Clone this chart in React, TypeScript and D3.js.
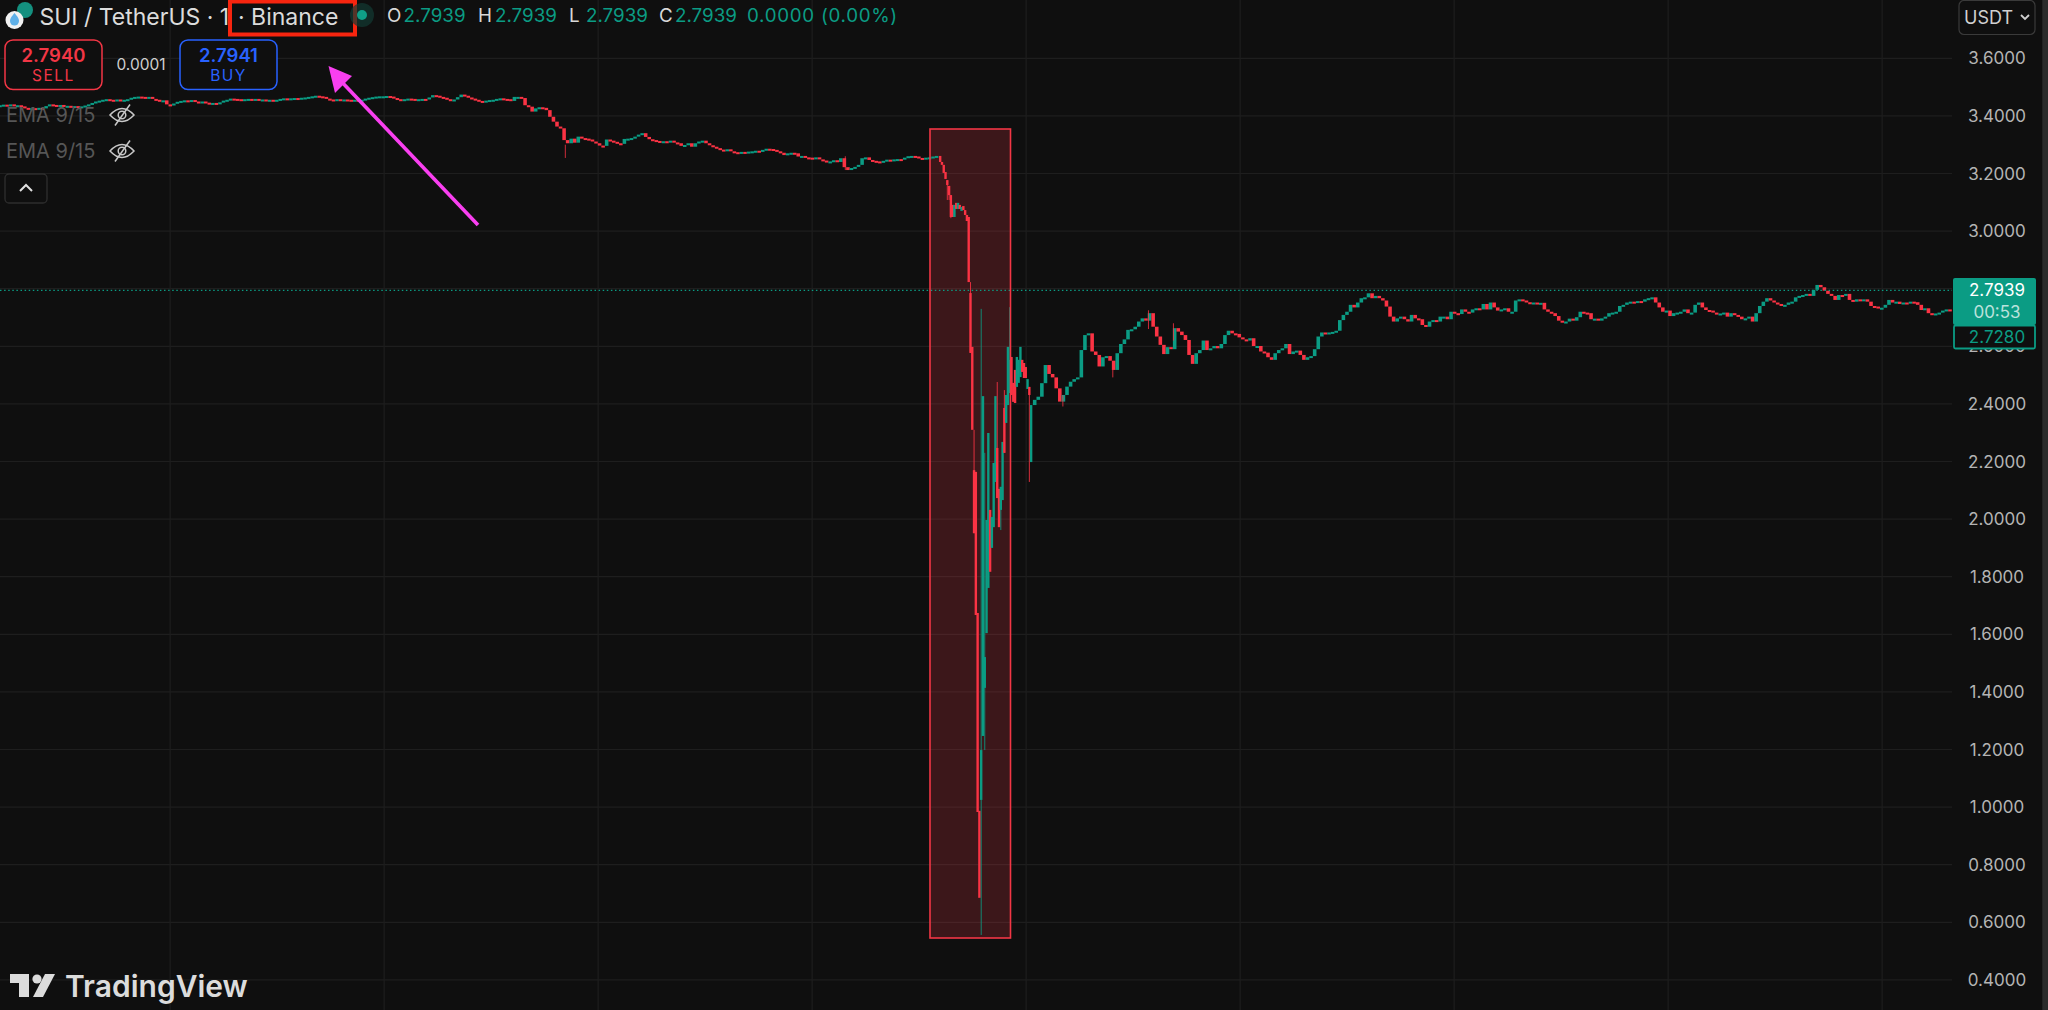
import React from "react";
import * as d3 from "d3";

const W = 2048, H = 1010;
const priceTicks = [3.6, 3.4, 3.2, 3.0, 2.6, 2.4, 2.2, 2.0, 1.8, 1.6, 1.4, 1.2, 1.0, 0.8, 0.6, 0.4];
const gridPrices = [3.6, 3.4, 3.2, 3.0, 2.8, 2.6, 2.4, 2.2, 2.0, 1.8, 1.6, 1.4, 1.2, 1.0, 0.8, 0.6, 0.4];
const gridBars = [95.4, 215.4, 335.4, 455.4, 575.4, 695.4, 815.4, 935.4, 1055.4];

// Closes before the crash, sampled every other bar
const preCloses = [
  3.437,3.439,3.436,3.44,3.435,3.437,3.433,3.428,3.425,3.427,3.424,3.428,3.426,3.434,3.44,3.438,3.436,3.438,3.433,3.435,
  3.432,3.434,3.431,3.433,3.436,3.44,3.445,3.45,3.453,3.456,3.458,3.456,3.455,3.457,3.455,3.456,3.458,3.463,3.466,3.467,
  3.466,3.464,3.466,3.459,3.456,3.452,3.454,3.44,3.437,3.443,3.449,3.452,3.454,3.453,3.455,3.45,3.448,3.45,3.446,3.444,
  3.445,3.444,3.447,3.453,3.456,3.46,3.459,3.458,3.457,3.458,3.459,3.458,3.459,3.456,3.457,3.455,3.456,3.454,3.456,3.459,
  3.461,3.46,3.461,3.462,3.461,3.463,3.464,3.466,3.468,3.47,3.468,3.466,3.46,3.457,3.456,3.458,3.455,3.457,3.456,3.455,
  3.456,3.454,3.456,3.46,3.463,3.465,3.467,3.468,3.468,3.469,3.467,3.462,3.458,3.456,3.458,3.46,3.459,3.457,3.458,3.459,
  3.458,3.464,3.472,3.47,3.466,3.463,3.458,3.456,3.457,3.465,3.474,3.47,3.464,3.46,3.456,3.452,3.45,3.453,3.455,3.456,3.459,
  3.461,3.459,3.458,3.452,3.466,3.466,3.462,3.437,3.432,3.415,3.426,3.43,3.428,3.42,3.397,3.38,3.363,3.357,3.316,3.305,
  3.321,3.307,3.328,3.323,3.321,3.318,3.311,3.305,3.297,3.296,3.318,3.314,3.31,3.305,3.303,3.32,3.321,3.323,3.328,3.335,
  3.34,3.327,3.319,3.316,3.313,3.311,3.312,3.31,3.314,3.308,3.305,3.296,3.299,3.305,3.293,3.305,3.311,3.314,3.305,3.298,
  3.293,3.288,3.283,3.279,3.284,3.277,3.274,3.27,3.275,3.273,3.276,3.277,3.279,3.275,3.282,3.286,3.285,3.282,3.277,3.272,
  3.264,3.27,3.272,3.27,3.259,3.261,3.256,3.255,3.254,3.256,3.249,3.245,3.24,3.242,3.246,3.24,3.253,3.222,3.212,3.219,
  3.223,3.23,3.253,3.256,3.247,3.244,3.242,3.238,3.244,3.248,3.244,3.249,3.25,3.248,3.255,3.26,3.261,3.259,3.254,3.253,
  3.255,3.256,3.259,3.261,
];

// Crash candles, every bar
const crashOpen = [3.261,3.24,3.23,3.205,3.177,3.157,3.125,3.091,3.049,3.098,3.077,3.091,3.07,3.087,3.073,3.056,3.049,2.785,2.598,2.17,2.164,1.674,0.987,1.025,1.247,1.414,1.604,1.761,2.032,1.9,1.972,2.129,2.247,2.105,2.032,2.066,2.386,2.334,2.396,2.438,2.563,2.473,2.518,2.459,2.473,2.493,2.553,2.542,2.528,2.452,2.459,2.198];
const crashClose = [3.24,3.23,3.202,3.181,3.16,3.125,3.049,3.049,3.091,3.077,3.098,3.077,3.084,3.073,3.056,3.035,2.823,2.577,2.31,1.951,1.667,0.983,0.685,1.198,2.427,1.521,1.997,2.299,1.817,2.007,2.195,2.427,2.073,1.972,2.112,2.268,2.23,2.431,2.598,2.553,2.431,2.407,2.403,2.563,2.553,2.598,2.511,2.49,2.49,2.486,2.431,2.396];
const crashHigh = [3.261,3.24,3.23,3.205,3.177,3.157,3.125,3.091,3.091,3.098,3.098,3.091,3.084,3.087,3.073,3.056,3.049,2.823,2.598,2.31,2.164,1.674,0.987,2.73,2.427,2.23,1.997,2.299,2.032,2.007,2.195,2.427,2.476,2.105,2.112,2.268,2.448,2.431,2.598,2.736,2.563,2.473,2.518,2.563,2.553,2.598,2.553,2.542,2.528,2.486,2.459,2.396];
const crashLow = [3.24,3.23,3.202,3.181,3.108,3.108,3.045,3.049,3.049,3.077,3.077,3.077,3.07,3.073,3.056,3.035,2.823,2.577,2.31,1.951,1.667,0.983,0.685,0.556,1.247,1.198,1.604,1.761,1.817,1.9,1.972,2.129,2.073,1.972,1.962,2.066,2.23,2.334,2.396,2.438,2.431,2.407,2.403,2.459,2.473,2.493,2.511,2.49,2.49,2.452,2.129,2.198];

// Closes after the crash, sampled every other bar
const postCloses = [
  2.414,2.425,2.472,2.535,2.504,2.492,2.454,2.408,2.431,2.46,2.477,2.486,2.492,2.587,2.639,2.645,2.582,2.57,2.53,2.562,
  2.566,2.55,2.518,2.576,2.608,2.624,2.657,2.659,2.668,2.686,2.697,2.689,2.715,2.668,2.634,2.605,2.573,2.597,2.59,2.663,
  2.651,2.639,2.622,2.57,2.539,2.576,2.587,2.62,2.587,2.593,2.601,2.593,2.608,2.639,2.654,2.645,2.643,2.631,2.624,2.62,
  2.628,2.601,2.601,2.582,2.578,2.562,2.553,2.576,2.587,2.593,2.608,2.573,2.582,2.585,2.57,2.553,2.562,2.566,2.59,2.634,
  2.648,2.645,2.648,2.65,2.654,2.691,2.709,2.72,2.744,2.735,2.752,2.767,2.77,2.784,2.767,2.775,2.767,2.759,2.738,2.703,
  2.686,2.697,2.703,2.694,2.686,2.709,2.697,2.694,2.674,2.668,2.686,2.691,2.686,2.703,2.703,2.694,2.72,2.715,2.712,2.728,
  2.72,2.717,2.728,2.732,2.728,2.747,2.728,2.752,2.735,2.724,2.728,2.732,2.72,2.72,2.759,2.763,2.759,2.753,2.749,2.752,
  2.749,2.751,2.728,2.72,2.715,2.705,2.689,2.682,2.686,2.696,2.689,2.701,2.72,2.717,2.715,2.694,2.696,2.689,2.697,2.703,
  2.715,2.717,2.72,2.74,2.744,2.752,2.755,2.753,2.757,2.755,2.763,2.767,2.77,2.752,2.735,2.72,2.724,2.705,2.715,2.717,
  2.72,2.728,2.715,2.717,2.744,2.752,2.735,2.726,2.724,2.717,2.712,2.714,2.717,2.703,2.715,2.709,2.703,2.694,2.697,2.703,
  2.686,2.715,2.74,2.755,2.767,2.759,2.752,2.747,2.74,2.744,2.752,2.755,2.77,2.775,2.778,2.782,2.775,2.796,2.813,2.805,
  2.793,2.782,2.775,2.761,2.778,2.776,2.782,2.761,2.755,2.763,2.761,2.763,2.755,2.74,2.738,2.732,2.734,2.744,2.761,2.752,
  2.755,2.747,2.752,2.749,2.755,2.753,2.744,2.726,2.732,2.715,2.712,2.714,2.717,2.724,2.728,2.726,
];

// Thin wicks sticking out of the sampled stretches
const spikeBars = [317, 474, 596, 624, 644, 658];
const spikeHigh = [3.30, 3.26, 2.43, 2.53, 2.725, 2.68];
const spikeLow = [3.254, 3.212, 2.391, 2.492, 2.66, 2.62];

const lastPrice = "2.7939";
const up = "#0b9c84", down = "#fb3344";

const crashStart = 527.2;
const x = d3.scaleLinear().domain([0, 120]).range([0, 214]);
const y = d3.scaleLinear().domain([3.6, 0.4]).range([58.3, 979.9]);

type Bar = { t: number; o: number; h: number; l: number; c: number; w: number };
function buildBars(): Bar[] {
  const bars: Bar[] = [];
  const preT = d3.scaleLinear().domain([0, preCloses.length - 1]).range([0, crashStart - 2]);
  const preStep = preT(1) - preT(0);
  preCloses.forEach((c, i) => {
    const o = i ? preCloses[i - 1] : c;
    bars.push({ t: preT(i), o, c, h: Math.max(o, c), l: Math.min(o, c), w: x(preStep) });
  });
  crashOpen.forEach((o, i) => bars.push({ t: crashStart + i, o, c: crashClose[i], h: crashHigh[i], l: crashLow[i], w: 2.4 }));
  const endT = crashStart + crashOpen.length - 1;
  const postT = d3.scaleLinear().domain([0, postCloses.length - 1]).range([endT + 2, 1950 / (214 / 120)]);
  const postStep = postT(1) - postT(0);
  postCloses.forEach((c, i) => {
    const o = i ? postCloses[i - 1] : crashClose[crashClose.length - 1];
    bars.push({ t: postT(i), o, c, h: Math.max(o, c), l: Math.min(o, c), w: x(postStep) });
  });
  return bars;
}

const font = "Inter, 'Noto Sans', sans-serif";

function Eye({ cx, cy }: { cx: number; cy: number }) {
  return (
    <g transform={`translate(${cx},${cy})`} fill="none" stroke="#c8c8c8" strokeWidth={1.5}>
      <path d="M-12 0 Q0 -13 12 0 Q0 13 -12 0Z" />
      <circle r={3.8} />
      <line x1={-7} y1={10.5} x2={8} y2={-10.5} />
    </g>
  );
}

export default function App() {
  const bars = buildBars();
  return (
    <>
      <style>{`html,body{margin:0;padding:0;background:#0f0f0f;overflow:hidden}`}</style>
      <svg width={W} height={H} viewBox={`0 0 ${W} ${H}`} style={{ display: "block", fontFamily: font }}>
        <rect width={W} height={H} fill="#0f0f0f" />
        {gridPrices.map((p) => (
          <line key={p} x1={0} x2={1952} y1={y(p)} y2={y(p)} stroke="#1e1e1e" strokeWidth={1.2} />
        ))}
        {gridBars.map((b) => (
          <line key={b} x1={x(b)} x2={x(b)} y1={0} y2={H} stroke="#1e1e1e" strokeWidth={1.2} />
        ))}
        <rect x={930} y={129} width={80.5} height={809} fill="#f23645" fillOpacity={0.2} />
        <g>
          {bars.map((b, i) => {
            const col = b.c >= b.o ? up : down;
            const top = y(Math.max(b.o, b.c));
            const hgt = Math.max(2, Math.abs(y(b.o) - y(b.c)));
            const cx = x(b.t);
            return (
              <g key={i} fill={col}>
                {b.h - b.l > Math.abs(b.o - b.c) + 1e-6 && (
                  <rect x={cx - 0.5} width={1} y={y(b.h)} height={y(b.l) - y(b.h)} opacity={0.85} />
                )}
                <rect x={cx - b.w / 2} width={b.w} y={top} height={hgt} />
              </g>
            );
          })}
          {spikeBars.map((t, i) => (
            <rect key={t} x={x(t) - 0.5} width={1} y={y(spikeHigh[i])} height={y(spikeLow[i]) - y(spikeHigh[i])} fill={down} opacity={0.8} />
          ))}
        </g>
        <line x1={0} x2={1952} y1={y(+lastPrice)} y2={y(+lastPrice)} stroke={up} strokeWidth={1.3} strokeDasharray="1.5 2.6" />
        <rect x={930} y={129} width={80.5} height={809} fill="none" stroke="#f23645" strokeWidth={1.6} />

        {/* arrow */}
        <line x1={478} y1={225} x2={338} y2={78} stroke="#f93ff0" strokeWidth={3.6} />
        <polygon points="328.5,66 352,76 335,93" fill="#f93ff0" />

        {/* header */}
        <circle cx={25} cy={10} r={8} fill="#14907f" />
        <circle cx={14.5} cy={20} r={9} fill="#f1f1f1" />
        <path d="M14.5 13 C18 17 19 19 19 21 A4.5 4.5 0 0 1 10 21 C10 19 11 17 14.5 13Z" fill="#5fb0e8" />
        <text x={39.5} y={24.5} fontSize={23} fill="#dcdcdc">SUI / TetherUS · 1</text>
        <text x={238} y={24.5} fontSize={23} fill="#dcdcdc">· Binance</text>
        <rect x={230} y={1.5} width={125} height={33} fill="none" stroke="#f7250f" strokeWidth={4} />
        <circle cx={362} cy={15} r={12} fill="#123a33" opacity={0.7} />
        <circle cx={362} cy={15} r={5} fill="#0f9f87" />
        {[[387, "O", 403.6], [478, "H", 495], [569, "L", 586], [659, "C", 675]].map(([lx, l, vx]) => (
          <g key={l as string} fontSize={18.8}>
            <text x={lx as number} y={22} fill="#d8d8d8">{l}</text>
            <text x={vx as number} y={22} fill={up}>{lastPrice}</text>
          </g>
        ))}
        <text x={747} y={22} fontSize={18.8} letterSpacing={0.7} fill={up}>0.0000 (0.00%)</text>

        {/* sell / buy */}
        <rect x={5} y={40} width={97} height={49.5} rx={8} fill="#0f0f0f" stroke="#f23645" strokeWidth={1.5} />
        <text x={53.5} y={61.5} fontSize={18.5} fontWeight={600} fill="#f23645" textAnchor="middle">2.7940</text>
        <text x={53.5} y={81} fontSize={15.5} letterSpacing={1.5} fill="#f23645" textAnchor="middle">SELL</text>
        <text x={141} y={70} fontSize={15.5} fill="#d0d0d0" textAnchor="middle">0.0001</text>
        <rect x={180} y={40} width={97} height={49.5} rx={8} fill="#0f0f0f" stroke="#2962ff" strokeWidth={1.5} />
        <text x={228.5} y={61.5} fontSize={18.5} fontWeight={600} fill="#2962ff" textAnchor="middle">2.7941</text>
        <text x={228.5} y={81} fontSize={15.5} letterSpacing={1.5} fill="#2962ff" textAnchor="middle">BUY</text>

        {/* indicators */}
        {[115, 151].map((cy) => (
          <g key={cy}>
            <text x={6} y={cy + 7} fontSize={20} fill="#565656">EMA 9/15</text>
            <Eye cx={122} cy={cy} />
          </g>
        ))}
        <rect x={5} y={174} width={42} height={29} rx={4} fill="#0f0f0f" stroke="#2e2e2e" strokeWidth={1.3} />
        <path d="M20 191 L26 185 L32 191" fill="none" stroke="#e0e0e0" strokeWidth={2} />

        {/* logo */}
        <path d="M10 974 H29 V997 H19 V983 H10Z" fill="#dcdcdc" />
        <circle cx={37} cy={979} r={4.6} fill="#dcdcdc" />
        <path d="M45 974 H55 L43 997 H33Z" fill="#dcdcdc" />
        <text x={65} y={997} fontSize={30} fontWeight={600} fill="#dcdcdc">TradingView</text>

        {/* price axis */}
        <rect x={1952} width={96} height={H} fill="#0f0f0f" />
        <rect x={2042.3} width={5.7} height={H} fill="#2b2b2b" />
        {priceTicks.map((p) => (
          <text key={p} x={1997} y={y(p) + 6} fontSize={17} fill="#b4b4b4" textAnchor="middle">{p.toFixed(4)}</text>
        ))}
        <rect x={1959} y={0.5} width={76} height={34} rx={5} fill="#0f0f0f" stroke="#3a3a3a" strokeWidth={1.2} />
        <text x={1964} y={23.5} fontSize={18} fill="#d0d0d0">USDT</text>
        <path d="M2021 15 L2025 19 L2029 15" fill="none" stroke="#d0d0d0" strokeWidth={1.8} />
        <rect x={1953} y={278} width={83} height={47} rx={2} fill="#0b9c84" />
        <text x={1997} y={296} fontSize={17} fill="#ffffff" textAnchor="middle">{lastPrice}</text>
        <text x={1997} y={317.5} fontSize={17} fill="#ffffff" fillOpacity={0.72} textAnchor="middle">00:53</text>
        <rect x={1954} y={325.5} width={81} height={23} rx={1.5} fill="#0f0f0f" stroke="#0b9c84" strokeWidth={1.8} />
        <text x={1997} y={343} fontSize={17} fill="#0b9c84" textAnchor="middle">2.7280</text>
      </svg>
    </>
  );
}
